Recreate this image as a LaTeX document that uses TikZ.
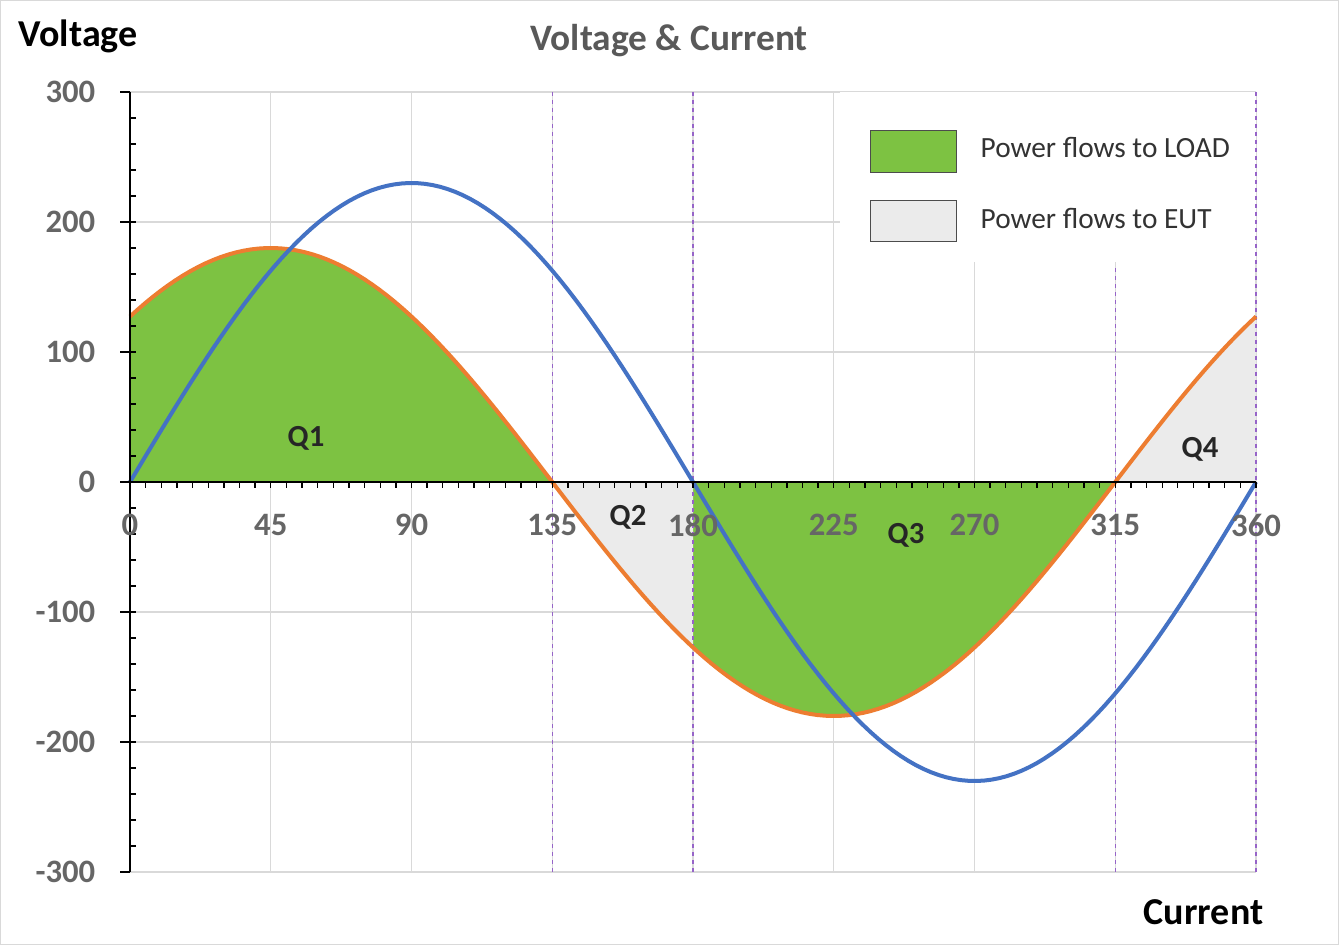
\documentclass[tikz,border=0pt]{standalone}
\usepackage{fontspec}
\setmainfont{Carlito}
\definecolor{gfill}{RGB}{125,194,66}
\definecolor{mark}{RGB}{150,100,200}
\begin{document}
\begin{tikzpicture}[x=0.75pt,y=-0.75pt,
 lab/.style={font=\fontsize{24.5}{26}\selectfont\bfseries,text=black!60},
 qlab/.style={font=\fontsize{23}{25}\selectfont\bfseries,text=black!85},
 leg/.style={font=\fontsize{22}{24}\selectfont,text=black!80,anchor=west},
 grid/.style={draw=black!15,line width=0.8pt},
 marker/.style={draw=mark,dashed,line width=0.8pt}]
\useasboundingbox (0,0) rectangle (1339,945);
\fill[white] (0,0) rectangle (1339,945);
\draw[black!15] (0.5,0.5) rectangle (1338.5,944.5);
% grid
\foreach \d in {45,90,...,360} \draw[grid] ({130+3.1278*\d},92) -- ({130+3.1278*\d},872);
\foreach \v in {300,200,100,-100,-200,-300} \draw[grid] (130,{482-1.3*\v}) -- (1256,{482-1.3*\v});
% fills
\fill[gfill] (130,482) -- plot[domain=0:135,samples=80] ({130+3.1278*\x},{482-1.3*180*sin(\x+45)}) -- cycle;
\fill[gfill] ({130+3.1278*180},482) -- plot[domain=180:315,samples=80] ({130+3.1278*\x},{482-1.3*180*sin(\x+45)}) -- cycle;
\fill[black!8] ({130+3.1278*135},482) -- plot[domain=135:180,samples=30] ({130+3.1278*\x},{482-1.3*180*sin(\x+45)}) -- ({130+3.1278*180},482) -- cycle;
\fill[black!8] ({130+3.1278*315},482) -- plot[domain=315:360,samples=30] ({130+3.1278*\x},{482-1.3*180*sin(\x+45)}) -- (1256,482) -- cycle;
% legend background
\fill[white] (840,92) rectangle (1256,262);
% purple markers
\foreach \d in {135,180} \draw[marker] ({130+3.1278*\d},92) -- ({130+3.1278*\d},872);
\draw[marker] ({130+3.1278*315},268) -- ({130+3.1278*315},872);
\draw[marker] (1256,92) -- (1256,872);
% curves
\draw[color={rgb,255:red,237;green,125;blue,49},line width=3pt] plot[domain=0:360,samples=150] ({130+3.1278*\x},{482-1.3*180*sin(\x+45)});
\draw[color={rgb,255:red,68;green,114;blue,196},line width=3pt] plot[domain=0:360,samples=150] ({130+3.1278*\x},{482-1.3*230*sin(\x)});
% axes
\draw[line width=1.8pt] (130,92) -- (130,872);
\draw[line width=1.8pt] (130,482) -- (1256,482);
\foreach \v in {300,200,...,-300} \draw[line width=1.5pt] (120,{482-1.3*\v}) -- (130,{482-1.3*\v});
\foreach \v in {-280,-260,...,280} \draw[line width=1pt] (130,{482-1.3*\v}) -- (136,{482-1.3*\v});
\foreach \d in {5,10,...,360} \draw[line width=1pt] ({130+3.1278*\d},482) -- ({130+3.1278*\d},488);
% tick labels
\foreach \v in {300,200,100,0,-100,-200,-300} \node[lab,anchor=east] (y\v) at (100,{482-1.3*\v}) {\v};
\foreach \d in {0,45,90,135,180,225,270,315,360} \node[lab] (x\d) at ({130+3.1278*\d},525) {\d};
% quadrant labels
\node[qlab] (q1) at (306,438) {Q1};
\node[qlab] (q2) at (628,517) {Q2};
\node[qlab] (q3) at (906,535) {Q3};
\node[qlab] (q4) at (1200,449) {Q4};
% legend
\draw[black!70,fill=gfill] (870,130) rectangle (956,172);
\draw[black!70,fill=black!8] (870,200) rectangle (956,241);
\node[leg] (l1) at (976,148) {Power flows to LOAD};
\node[leg] (l2) at (976,219) {Power flows to EUT};
% titles
\node[font=\fontsize{28}{30}\selectfont\bfseries,text=black!65] (t) at (669,41) {Voltage \& Current};
\node[font=\fontsize{28.5}{30}\selectfont\bfseries,anchor=west] (v) at (14,36) {Voltage};
\node[font=\fontsize{28.5}{30}\selectfont\bfseries,anchor=east] (c) at (1268,912) {Current};
\end{tikzpicture}
\end{document}
